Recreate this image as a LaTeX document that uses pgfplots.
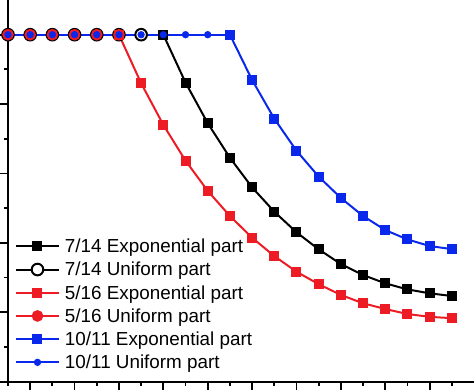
\documentclass[border=0pt]{standalone}
\usepackage{fontspec}
\setmainfont{Liberation Sans}
\usepackage{pgfplots}
\pgfplotsset{compat=1.18}
\definecolor{cred}{RGB}{237,28,36}
\definecolor{cblue}{RGB}{10,40,235}
\begin{document}
\begin{tikzpicture}
\begin{axis}[
 at={(0,0)}, anchor=south west,
 scale only axis, width=233pt, height=190.85pt,
 xmin=1, xmax=22, ymin=0, ymax=1.1,
 axis x line*=bottom, axis y line*=left,
 axis line style={-, line width=1pt},
 xtick={2,4,6,8,10,12,14,16,18,20}, minor xtick={1,3,5,7,9,11,13,15,17,19,21},
 ytick={0,0.2,0.4,0.6,0.8,1.0}, minor ytick={0.1,0.3,0.5,0.7,0.9},
 xticklabels={}, yticklabels={},
 tick align=outside,
 major tick length=3.9pt, minor tick length=1.9pt,
 every tick/.style={black, line width=0.9pt},
 clip=false,
 legend cell align=left,
 legend style={draw=none, fill=none, at={(axis description cs:0.015,0.385)}, anchor=north west,
   inner sep=0pt, outer sep=0pt, row sep=0pt,
   font=\fontsize{9.42pt}{11.5pt}\selectfont,
   nodes={inner sep=0pt, text height=9pt, text depth=2.6pt},
   /tikz/every odd column/.style={column sep=2.5pt}},
 legend image code/.code={\draw[mark repeat=2,mark phase=2,#1] plot coordinates {(0pt,0pt) (10.75pt,0pt) (21.5pt,0pt)};},
]
\addplot[black, line width=1pt, mark=square*, mark size=2pt] coordinates {
(8,1.0) (9,0.862) (10,0.745) (11,0.6455) (12,0.560) (13,0.490) (14,0.4305) (15,0.3815) (16,0.339) (17,0.3075) (18,0.2835) (19,0.266) (20,0.2547) (21,0.247)};
\addlegendentry{7/14 Exponential part}
\addplot[black, line width=1pt, mark=*, mark size=2.9pt, mark options={fill=white}] coordinates {
(1,1.0) (2,1.0) (3,1.0) (4,1.0) (5,1.0) (6,1.0) (7,1.0)};
\addlegendentry{7/14 Uniform part}
\addplot[cred, line width=1pt, mark=square*, mark size=2pt] coordinates {
(6,1.0) (7,0.860) (8,0.740) (9,0.637) (10,0.550) (11,0.4775) (12,0.415) (13,0.362) (14,0.317) (15,0.281) (16,0.250) (17,0.226) (18,0.2095) (19,0.195) (20,0.187) (21,0.183)};
\addlegendentry{5/16 Exponential part}
\addplot[cred, line width=1pt, mark=*, mark size=2.4pt] coordinates {
(1,1.0) (2,1.0) (3,1.0) (4,1.0) (5,1.0) (6,1.0)};
\addlegendentry{5/16 Uniform part}
\addplot[cblue, line width=1pt, mark=square*, mark size=2pt] coordinates {
(11,1.0) (12,0.8695) (13,0.758) (14,0.6657) (15,0.591) (16,0.5295) (17,0.4775) (18,0.437) (19,0.410) (20,0.391) (21,0.382)};
\addlegendentry{10/11 Exponential part}
\addplot[cblue, line width=1pt, forget plot] coordinates {(10,1.0) (11,1.0)};
\addplot[cblue, line width=1pt, mark=*, mark size=1.3pt] coordinates {
(1,1.0) (2,1.0) (3,1.0) (4,1.0) (5,1.0) (6,1.0) (7,1.0) (8,1.0) (9,1.0) (10,1.0)};
\addlegendentry{10/11 Uniform part}
\end{axis}
\pgfresetboundingbox
\path (-4pt,-3.65pt) rectangle (233pt,190.85pt);
\end{tikzpicture}
\end{document}
